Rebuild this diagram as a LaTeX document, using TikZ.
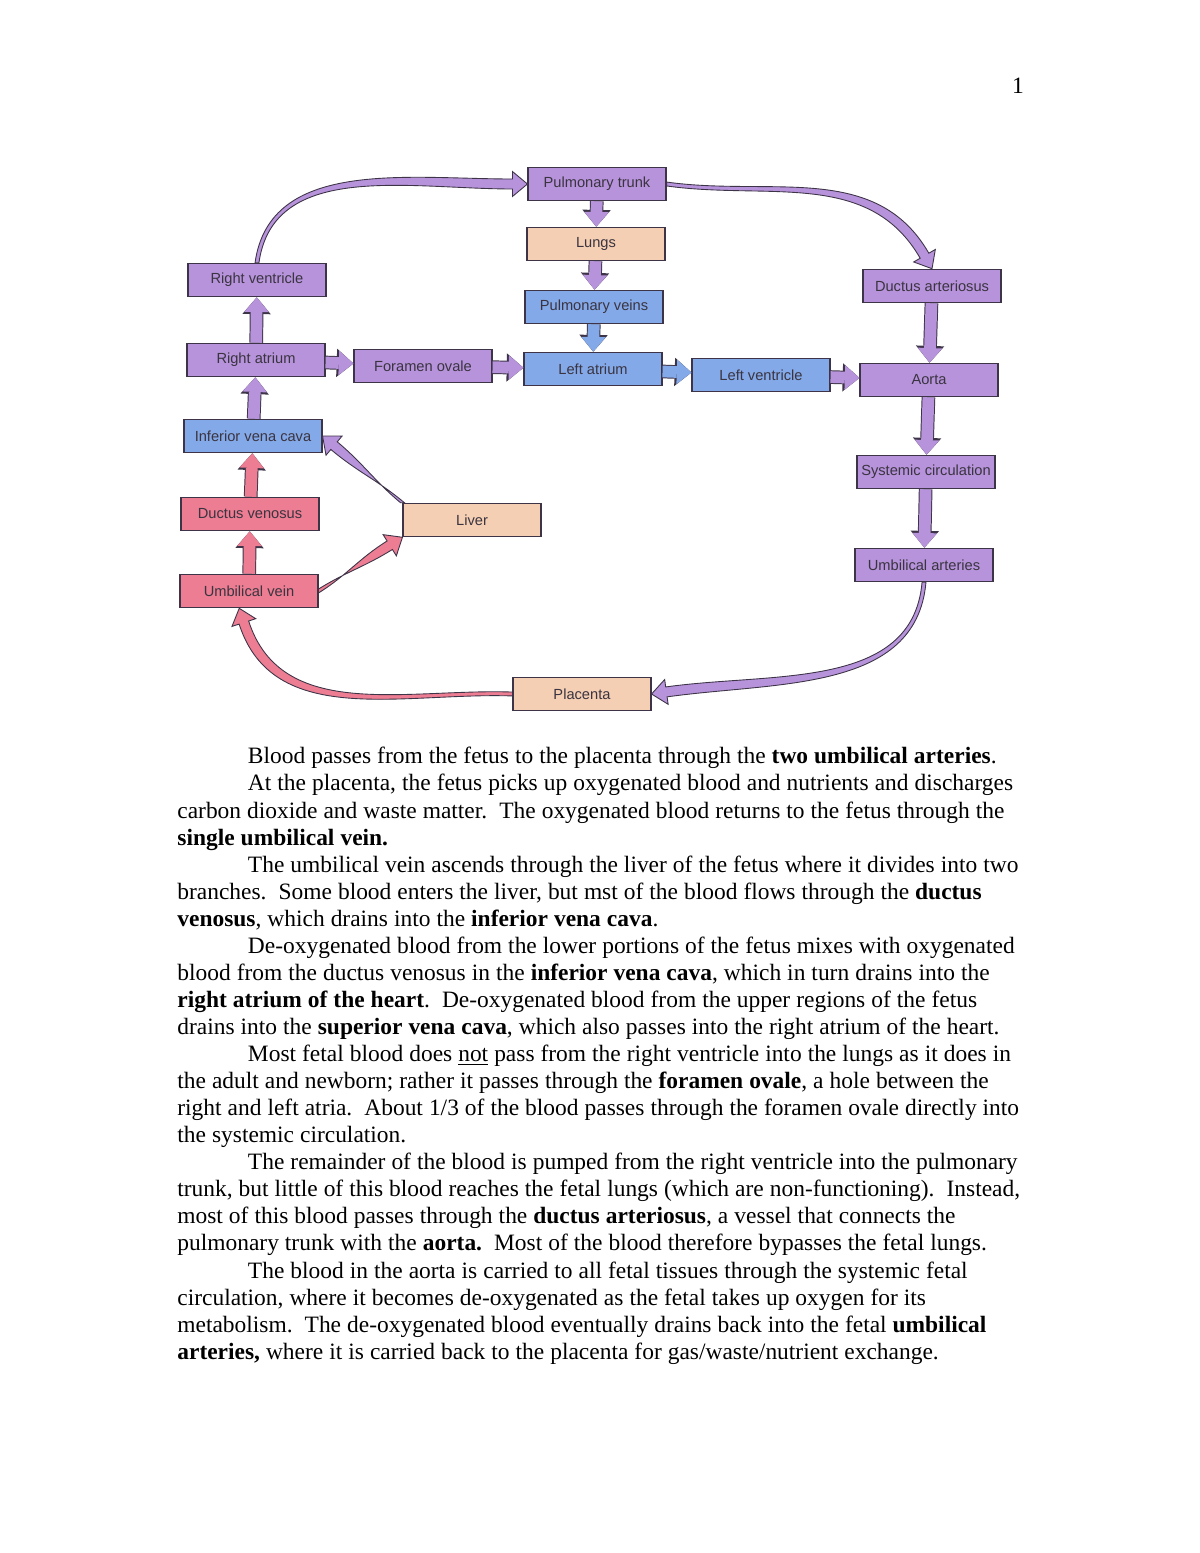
\documentclass[tikz,border=0pt]{standalone}
\usepackage{fontspec}
\setmainfont{Liberation Serif}
\setsansfont{Liberation Sans}
\usepackage{xcolor}
\usepackage{tikz}
\usetikzlibrary{arrows.meta, calc}
\definecolor{fpurple}{HTML}{B793DB}
\definecolor{fblue}{HTML}{84A9E8}
\definecolor{fpeach}{HTML}{F5CFB3}
\definecolor{fpink}{HTML}{EC7D92}
\definecolor{fedge}{HTML}{3E3448}
\definecolor{flabel}{HTML}{3A3440}

\tikzset{
  organ/.style={draw=fedge, line width=0.7pt, minimum width=70.5pt, minimum height=17pt,
    inner sep=0pt, font=\fontsize{7.5}{9}\sffamily, text=flabel},
  flow/.style={draw=#1, line width=6pt, -{Triangle[width=12.5pt,length=7.5pt,line width=0pt]},
    preaction={draw=fedge, line width=7pt, -{Triangle[width=14.5pt,length=8.6pt,line width=0pt]}}}
}

% tapered block arrow: colour, outer start, inner start, out angle, in angle, tip
\newcommand{\taperflow}[6]{%
  \filldraw[fill=#1, draw=fedge, line width=0.45pt, line join=miter]
    (#2) to[out=#4, in=#5] ($(#6)+(#5:15)+(#5-90:5)$)
    -- ($(#6)+(#5:15)+(#5-90:12.5)$) -- (#6)
    -- ($(#6)+(#5:15)+(#5+90:12.5)$) -- ($(#6)+(#5:15)+(#5+90:5)$)
    to[out=#5, in=#4] (#3) -- cycle;
}

\begin{document}
\begin{tikzpicture}[x=0.017992cm, y=0.017992cm]

  \fill[white] (0,0) rectangle (1200,-1553);
  \useasboundingbox (0,0) rectangle (1200,-1553);

  %% page number
  \node[font=\fontsize{12}{14}\selectfont] (pgno) at (1018,-86) {1};

  %% heart and lungs
  \node[organ, fill=fpurple] (pt) at (597,-184) {Pulmonary trunk};
  \node[organ, fill=fpeach] (lung) at (596,-244) {Lungs};
  \node[organ, fill=fblue] (pv) at (594,-307) {Pulmonary veins};
  \node[organ, fill=fblue] (la) at (593,-369) {Left atrium};
  \node[organ, fill=fblue] (lv) at (761,-375) {Left ventricle};
  \node[organ, fill=fpurple] (rv) at (257,-280) {Right ventricle};
  \node[organ, fill=fpurple] (ra) at (256,-360) {Right atrium};
  \node[organ, fill=fpurple] (fo) at (423,-366) {Foramen ovale};

  %% arterial side
  \node[organ, fill=fpurple] (da) at (932,-286) {Ductus arteriosus};
  \node[organ, fill=fpurple] (ao) at (929,-380) {Aorta};
  \node[organ, fill=fpurple] (sc) at (926,-472) {Systemic circulation};
  \node[organ, fill=fpurple] (ua) at (924,-565) {Umbilical arteries};

  %% venous side
  \node[organ, fill=fblue] (ivc) at (253,-436) {Inferior vena cava};
  \node[organ, fill=fpink] (dv) at (250,-514) {Ductus venosus};
  \node[organ, fill=fpink] (uv) at (249,-591) {Umbilical vein};
  \node[organ, fill=fpeach] (liv) at (472,-520) {Liver};
  \node[organ, fill=fpeach] (pl) at (582,-694) {Placenta};

  %% straight flows
  \draw[flow=fpurple] (pt) -- (lung);
  \draw[flow=fpurple] (lung) -- (pv);
  \draw[flow=fblue] (pv) -- (la);
  \draw[flow=fblue] (la) -- (lv);
  \draw[flow=fpurple] (lv) -- (ao);
  \draw[flow=fpurple] (ra) -- (fo);
  \draw[flow=fpurple] (fo) -- (la);
  \draw[flow=fpurple] (ra) -- (rv);
  \draw[flow=fpurple] (ivc) -- (ra);
  \draw[flow=fpink] (dv) -- (ivc);
  \draw[flow=fpink] (uv) -- (dv);
  \draw[flow=fpurple] (da) -- (ao);
  \draw[flow=fpurple] (ao) -- (sc);
  \draw[flow=fpurple] (sc) -- (ua);

  %% tapered flows
  \taperflow{fpink}{[yshift=-1pt]uv.east}{[yshift=1pt]uv.east}{32}{212}{liv.south west}
  \taperflow{fpurple}{[xshift=1pt]liv.north west}{[xshift=-1pt]liv.north west}{140}{-40}{ivc.east}
  \taperflow{fpurple}{[xshift=-1pt]rv.north}{[xshift=1pt]rv.north}{82}{180}{pt.west}
  \taperflow{fpurple}{[yshift=1pt]pt.east}{[yshift=-1pt]pt.east}{-8}{120}{da.north}
  \taperflow{fpurple}{[xshift=1pt]ua.south}{[xshift=-1pt]ua.south}{-95}{8}{pl.east}
  \taperflow{fpink}{[yshift=-1pt]pl.west}{[yshift=1pt]pl.west}{178}{-72}{[xshift=-5pt]uv.south}

  %% text
  \node[anchor=north west, inner sep=0pt, text width=6.5in, align=left,
    font=\fontsize{12}{13.85}\selectfont] (body) at (177,-747) {%
\spaceskip=3.08pt plus 1pt minus 0.5pt\relax
\hspace*{0.5in}Blood passes from the fetus to the placenta through the \textbf{two umbilical arteries}.\\
\hspace*{0.5in}At the placenta, the fetus picks up oxygenated blood and nutrients and discharges\\
carbon dioxide and waste matter.\ \ The oxygenated blood returns to the fetus through the\\
\textbf{single umbilical vein.}\\
\hspace*{0.5in}The umbilical vein ascends through the liver of the fetus where it divides into two\\
branches.\ \ Some blood enters the liver, but mst of the blood flows through the \textbf{ductus}\\
\textbf{venosus}, which drains into the \textbf{inferior vena cava}.\\
\hspace*{0.5in}De-oxygenated blood from the lower portions of the fetus mixes with oxygenated\\
blood from the ductus venosus in the \textbf{inferior vena cava}, which in turn drains into the\\
\textbf{right atrium of the heart}.\ \ De-oxygenated blood from the upper regions of the fetus\\
drains into the \textbf{superior vena cava}, which also passes into the right atrium of the heart.\\
\hspace*{0.5in}Most fetal blood does \underline{not} pass from the right ventricle into the lungs as it does in\\
the adult and newborn; rather it passes through the \textbf{foramen ovale}, a hole between the\\
right and left atria.\ \ About 1/3 of the blood passes through the foramen ovale directly into\\
the systemic circulation.\\
\hspace*{0.5in}The remainder of the blood is pumped from the right ventricle into the pulmonary\\
trunk, but little of this blood reaches the fetal lungs (which are non-functioning).\ \ Instead,\\
most of this blood passes through the \textbf{ductus arteriosus}, a vessel that connects the\\
pulmonary trunk with the \textbf{aorta.}\ \ Most of the blood therefore bypasses the fetal lungs.\\
\hspace*{0.5in}The blood in the aorta is carried to all fetal tissues through the systemic fetal\\
circulation, where it becomes de-oxygenated as the fetal takes up oxygen for its\\
metabolism.\ \ The de-oxygenated blood eventually drains back into the fetal \textbf{umbilical}\\
\textbf{arteries,} where it is carried back to the placenta for gas/waste/nutrient exchange.};

\end{tikzpicture}
\end{document}
